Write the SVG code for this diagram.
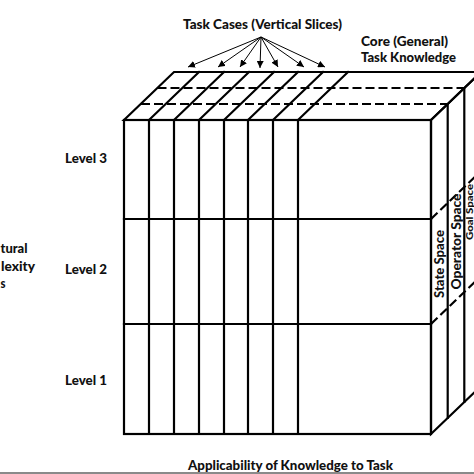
<svg xmlns="http://www.w3.org/2000/svg" width="474" height="474" viewBox="0 0 474 474">
<defs>
<style>
.t{font-family:Lato,"Liberation Sans",sans-serif;font-weight:900;font-size:14px;fill:#111}
.ln{stroke:#000;stroke-width:2.2;fill:none;stroke-linecap:square}
.ds{stroke:#000;stroke-width:2.2;fill:none;stroke-dasharray:9,4}
.ar{stroke:#000;stroke-width:1;fill:none}
</style>
<marker id="ah" viewBox="0 0 10 10" refX="10" refY="5" markerWidth="7" markerHeight="7" markerUnits="userSpaceOnUse" orient="auto">
<path d="M0,0L10,5L0,10z" fill="#000"/>
</marker>
</defs>
<rect width="474" height="474" fill="#fff"/>
<rect x="0" y="472" width="474" height="2" fill="#8a8a8a"/>

<g id="cube">
<g id="top-face">
<polygon points="124,120 174,72 481,72 431,120" fill="#fff" class="ln"/>
<path class="ln" d="M149,120L199,72M174,120L224,72M199,120L249,72M224,120L274,72M248,120L298,72M273,120L323,72M298,120L348,72"/>
<path class="ds" d="M141,104H447.7M157.5,88H464.3"/>
</g>
<g id="right-face">
<polygon points="431,120 481,72 481,386 431,434" fill="#bababa" class="ln"/>
<path class="ln" d="M447.7,104V418M464.3,88V402"/>
<path class="ds" d="M431,219L481,171M431,324L481,276"/>
</g>
<g id="front-face">
<rect x="124" y="120" width="307" height="314" fill="#fff" class="ln"/>
<path class="ln" d="M149,120V434M174,120V434M199,120V434M224,120V434M248,120V434M273,120V434M298,120V434"/>
<path class="ln" d="M124,219H431M124,324H431"/>
</g>
</g>

<g id="connectors">
<path class="ar" marker-end="url(#ah)" d="M261,37L188,67"/>
<path class="ar" marker-end="url(#ah)" d="M261,37L218,67"/>
<path class="ar" marker-end="url(#ah)" d="M261,37L240,67"/>
<path class="ar" marker-end="url(#ah)" d="M261,37L260,68"/>
<path class="ar" marker-end="url(#ah)" d="M261,37L278,67"/>
<path class="ar" marker-end="url(#ah)" d="M261,37L304,67"/>
<path class="ar" marker-end="url(#ah)" d="M261,37L325,67"/>
</g>

<g id="labels">
<text class="t" x="262.5" y="29" text-anchor="middle" textLength="159" lengthAdjust="spacingAndGlyphs">Task Cases (Vertical Slices)</text>
<text class="t" x="361" y="46" textLength="87" lengthAdjust="spacingAndGlyphs">Core (General)</text>
<text class="t" x="361" y="62" textLength="95" lengthAdjust="spacingAndGlyphs">Task Knowledge</text>
<text class="t" x="65" y="163" textLength="42" lengthAdjust="spacingAndGlyphs">Level 3</text>
<text class="t" x="65" y="274" textLength="42" lengthAdjust="spacingAndGlyphs">Level 2</text>
<text class="t" x="65" y="385" textLength="42" lengthAdjust="spacingAndGlyphs">Level 1</text>
<text class="t" x="0.5" y="253" textLength="27" lengthAdjust="spacingAndGlyphs">tural</text>
<text class="t" x="1" y="270.5" textLength="34" lengthAdjust="spacingAndGlyphs">lexity</text>
<text class="t" x="0.5" y="288" textLength="5" lengthAdjust="spacingAndGlyphs">s</text>
<text class="t" x="290.5" y="470" text-anchor="middle" textLength="205" lengthAdjust="spacingAndGlyphs">Applicability of Knowledge to Task</text>
<text class="t" transform="translate(444,264) rotate(-90)" text-anchor="middle" textLength="68" lengthAdjust="spacingAndGlyphs">State Space</text>
<text class="t" transform="translate(461,241.5) rotate(-90)" text-anchor="middle" textLength="96" lengthAdjust="spacingAndGlyphs">Operator Space</text>
<text class="t" style="font-size:10px" transform="translate(472.5,212) rotate(-90)" text-anchor="middle" textLength="56" lengthAdjust="spacingAndGlyphs">Goal Space</text>
</g>
</svg>
